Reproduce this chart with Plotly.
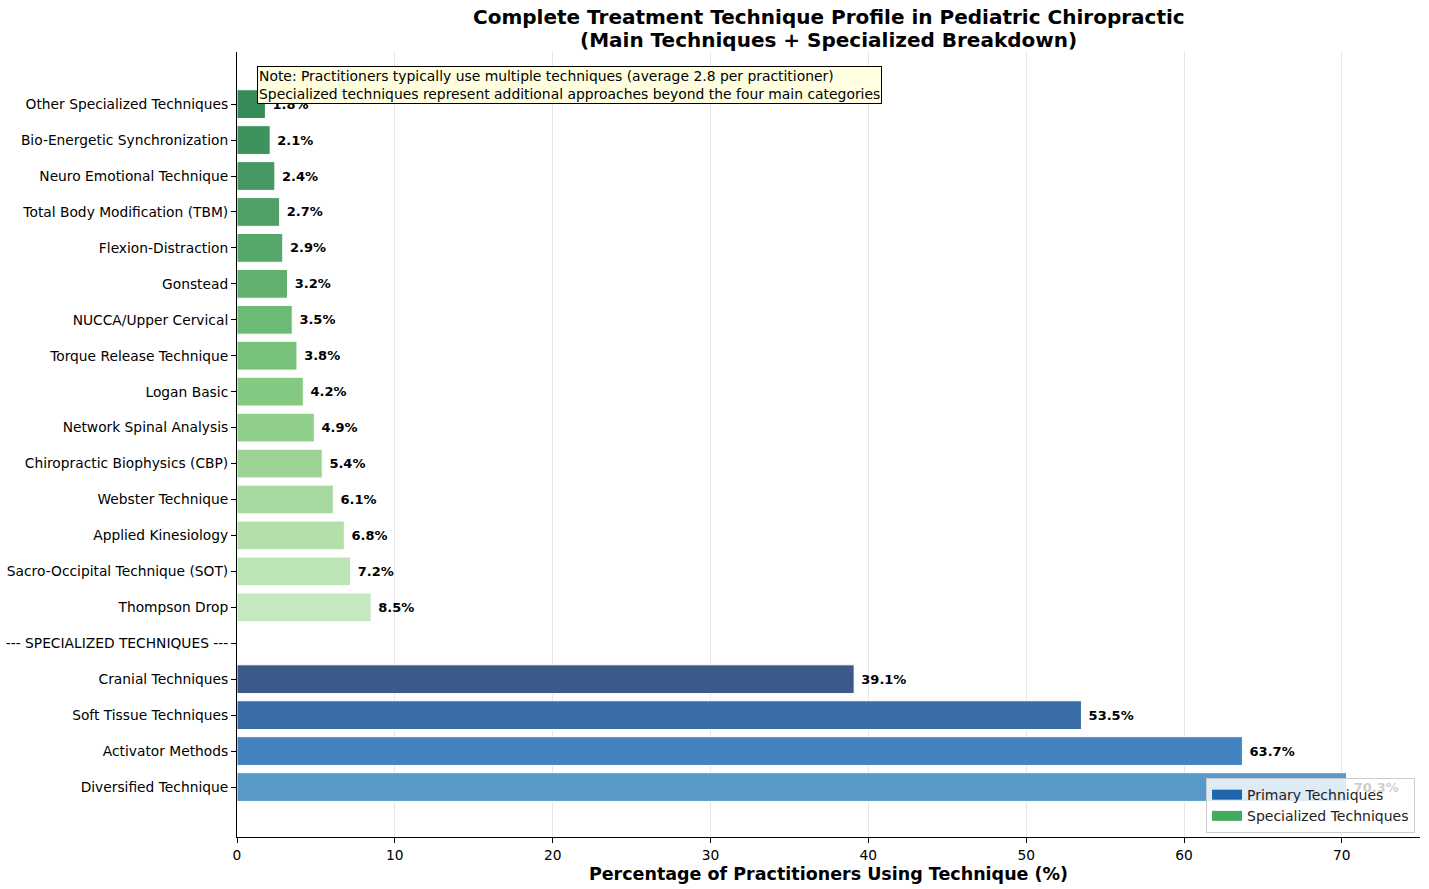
import plotly.graph_objects as go

primary_names = ["Diversified Technique", "Activator Methods", "Soft Tissue Techniques", "Cranial Techniques"]
primary_values = [70.3, 63.7, 53.5, 39.1]
primary_colors = ["#5799c8", "#4283c0", "#3a6da8", "#3b5a8a"]

separator_label = "--- SPECIALIZED TECHNIQUES ---"

special_names = ["Thompson Drop", "Sacro-Occipital Technique (SOT)", "Applied Kinesiology",
                 "Webster Technique", "Chiropractic Biophysics (CBP)", "Network Spinal Analysis",
                 "Logan Basic", "Torque Release Technique", "NUCCA/Upper Cervical", "Gonstead",
                 "Flexion-Distraction", "Total Body Modification (TBM)", "Neuro Emotional Technique",
                 "Bio-Energetic Synchronization", "Other Specialized Techniques"]
special_values = [8.5, 7.2, 6.8, 6.1, 5.4, 4.9, 4.2, 3.8, 3.5, 3.2, 2.9, 2.7, 2.4, 2.1, 1.8]
special_colors = ["#c6e8c0", "#bde4b6", "#b2dfaa", "#a6d99f", "#9bd494", "#8fcf8a",
                  "#84c981", "#76c27a", "#6bbb76", "#60b170", "#56a76b", "#4fa067",
                  "#479963", "#3e925e", "#378b58"]

x_ticks = [0, 10, 20, 30, 40, 50, 60, 70]

title_lines = ["Complete Treatment Technique Profile in Pediatric Chiropractic",
               "(Main Techniques + Specialized Breakdown)"]

categories = primary_names + [separator_label] + special_names

fig = go.Figure()

label_template = "\u00a0<b>%{x:.1f}%</b>"
label_font = dict(family="DejaVu Sans", size=13, color="black")

fig.add_trace(go.Bar(
    y=primary_names, x=primary_values, orientation="h",
    marker=dict(color=primary_colors, line=dict(color="white", width=1)),
    width=0.8, showlegend=False, hoverinfo="x+y",
    texttemplate=label_template, textposition="outside", textfont=label_font,
    textangle=0, constraintext="none", cliponaxis=False))

fig.add_trace(go.Bar(
    y=special_names, x=special_values, orientation="h",
    marker=dict(color=special_colors, line=dict(color="white", width=1)),
    width=0.8, showlegend=False, hoverinfo="x+y",
    texttemplate=label_template, textposition="outside", textfont=label_font,
    textangle=0, constraintext="none", cliponaxis=False))

# legend entries
fig.add_trace(go.Scatter(y=[None], x=[None], mode="lines", name="Primary Techniques",
                         line=dict(color="#2166ac", width=10), showlegend=True))
fig.add_trace(go.Scatter(y=[None], x=[None], mode="lines", name="Specialized Techniques",
                         line=dict(color="#41ab5d", width=10), showlegend=True))

annotations = [
    dict(x=0.0169, y=0.982, xref="paper", yref="paper", xanchor="left", yanchor="top",
         text="Note: Practitioners typically use multiple techniques (average 2.8 per practitioner)<br>"
              "Specialized techniques represent additional approaches beyond the four main categories",
         showarrow=False, align="left", bgcolor="#ffffe0", bordercolor="black", borderwidth=1,
         borderpad=1, font=dict(family="DejaVu Sans", size=13.9, color="black")),
]
for line, shift in zip(title_lines, [35, 12]):
    annotations.append(dict(x=0.5, y=1, xref="paper", yref="paper", xanchor="center",
                            yanchor="middle", yshift=shift, text=f"<b>{line}</b>",
                            showarrow=False,
                            font=dict(family="DejaVu Sans", size=20, color="black")))

fig.update_layout(
    width=1429, height=889,
    margin=dict(l=237, r=9, t=52, b=52, autoexpand=False),
    paper_bgcolor="white", plot_bgcolor="white",
    font=dict(family="DejaVu Sans", size=13.8, color="black"),
    bargap=0.2,
    annotations=annotations,
    legend=dict(x=0.9958, y=0.005, xanchor="right", yanchor="bottom",
                bgcolor="rgba(255,255,255,0.8)", bordercolor="#cccccc", borderwidth=1,
                font=dict(family="DejaVu Sans", size=14, color="#222222"),
                traceorder="normal", itemwidth=30, tracegroupgap=0),
)

fig.update_xaxes(
    range=[0, 74.95], tickvals=x_ticks,
    showgrid=True, gridcolor="#e6e6e6", gridwidth=1,
    showline=True, linecolor="black", linewidth=1,
    ticks="outside", ticklen=5, tickcolor="black",
    tickfont=dict(size=13.8), zeroline=False, automargin=False,
    title=dict(text="<b>Percentage of Practitioners Using Technique (%)</b>",
               font=dict(size=17.5), standoff=6))

fig.update_yaxes(
    type="category", categoryorder="array", categoryarray=categories,
    range=[-1.39, 20.45], showgrid=False,
    showline=True, linecolor="black", linewidth=1,
    ticks="outside", ticklen=5, tickcolor="black",
    tickfont=dict(size=13.8), zeroline=False, automargin=False)

fig.write_html("out.html", config={"displayModeBar": False},
               post_script="document.body.style.margin='0';")
